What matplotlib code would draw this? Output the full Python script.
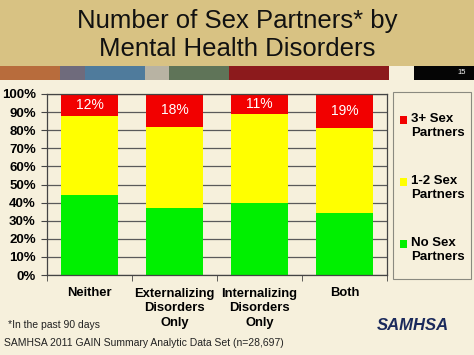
import matplotlib
matplotlib.use("Agg")
import matplotlib.pyplot as plt
from matplotlib.patches import Rectangle, Patch
from matplotlib.legend_handler import HandlerPatch
import numpy as np

plt.rcParams['font.family'] = ['Liberation Sans', 'DejaVu Sans']

categories = ['Neither', 'Externalizing\nDisorders\nOnly', 'Internalizing\nDisorders\nOnly', 'Both']
no_partners = [44, 37, 40, 34]
one_two_partners = [44, 45, 49, 47]
three_plus = [12, 18, 11, 19]
series_labels = ['3+ Sex\nPartners', '1-2 Sex\nPartners', 'No Sex\nPartners']

bg = '#F6F0DC'
band = '#D8C283'
red = '#F20000'
yellow = '#FFFF00'
green = '#00F000'

fig = plt.figure(figsize=(4.74, 3.55), dpi=100)
fig.patch.set_facecolor(bg)

# title band and the coloured stripe under it
fig.patches.append(Rectangle((0, 1 - 66 / 355), 1, 66 / 355, transform=fig.transFigure,
                             facecolor=band, edgecolor='none', zorder=-1))
stripe = [(0, 60, '#B86C3C'), (60, 85, '#6F6B7C'), (85, 145, '#4F7B9C'), (145, 169, '#B8B3A3'),
          (169, 229, '#5F7458'), (229, 389, '#8C1A1C'), (414, 474, '#050505')]
for x0, x1, c in stripe:
    fig.patches.append(Rectangle((x0 / 474, 1 - 80 / 355), (x1 - x0) / 474, 14 / 355,
                                 transform=fig.transFigure, facecolor=c, edgecolor='none', zorder=-1))
fig.text(466 / 474, 1 - 73 / 355, '15', color='white', fontsize=5.5, ha='right', va='center')
fig.text(0.5, 1 - 35 / 355, 'Number of Sex Partners* by\nMental Health Disorders', ha='center', va='center',
         fontsize=18.5, linespacing=1.25, color='#111111')

ax = fig.add_axes([47 / 474, 80 / 355, 340 / 474, 181 / 355])
ax.set_facecolor(bg)
x = np.arange(len(categories))
w = 0.67
g = np.array(no_partners)
yl = np.array(one_two_partners)
r = np.array(three_plus)
ax.bar(x, g, w, color=green, zorder=2)
ax.bar(x, yl, w, bottom=g, color=yellow, zorder=2)
ax.bar(x, r, w, bottom=g + yl, color=red, zorder=2)
for xi, b, v in zip(x, g + yl, r):
    ax.text(xi, b + v / 2, f'{v}%', ha='center', va='center', color='white',
            fontsize=10, zorder=3)

ax.set_xlim(-0.5, 3.5)
ax.set_ylim(0, 100)
ax.set_yticks(np.arange(0, 101, 10))
ax.set_yticklabels([f'{v}%' for v in range(0, 101, 10)], fontsize=9.5, fontweight='bold')
ax.yaxis.grid(True, color='#5a5a5a', linewidth=0.9, zorder=1)
ax.set_xticks(x)
ax.set_xticklabels(categories, fontsize=9.4, fontweight='bold', linespacing=1.3)
ax.set_xticks(np.arange(-0.5, 3.6, 1), minor=True)
ax.tick_params(axis='x', which='major', length=0, pad=9)
ax.tick_params(axis='x', which='minor', length=4, color='#444444')
ax.tick_params(axis='y', length=4, color='#444444', pad=4)
for s in ax.spines.values():
    s.set_color('#444444')
    s.set_linewidth(0.9)


def top_square(legend, orig_handle, xdescent, ydescent, width, height, fontsize):
    # square sits on the first line of the two-line label
    return Rectangle((-xdescent, -ydescent + 4), width, height)


# legend frame drawn as its own box (below the axes layer), entries placed inside it
fig.patches.append(Rectangle((393 / 474, 1 - 279 / 355), 78 / 474, 187 / 355, transform=fig.transFigure,
                             facecolor=bg, edgecolor='#8a8a80', linewidth=0.8, zorder=-1))
handles = [Patch(facecolor=red), Patch(facecolor=yellow), Patch(facecolor=green)]
leg = ax.legend(handles, series_labels, loc='upper left', bbox_to_anchor=(400 / 474, 1 - 113 / 355),
                bbox_transform=fig.transFigure, frameon=False, labelspacing=2.75,
                handlelength=0.55, handleheight=0.55, handletextpad=0.3, borderpad=0,
                borderaxespad=0, prop={'weight': 'bold', 'size': 9.5},
                handler_map={Patch: HandlerPatch(patch_func=top_square)})

fig.text(8 / 474, 1 - 325 / 355, '*In the past 90 days', fontsize=7.5, va='center', color='#222222')
fig.text(4 / 474, 1 - 343 / 355, 'SAMHSA 2011 GAIN Summary Analytic Data Set (n=28,697)', fontsize=7.5,
         va='center', color='#222222')
fig.text(413 / 474, 1 - 326 / 355, 'SAMHSA', fontsize=12, fontweight='bold', style='italic',
         color='#1B2A5C', ha='center', va='center')

fig.savefig('out.png', dpi=100, facecolor=bg)
